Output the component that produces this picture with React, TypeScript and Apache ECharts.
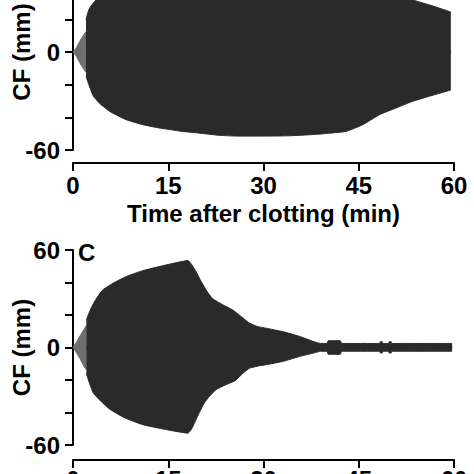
import React, { useEffect, useRef } from "react";
import * as echarts from "echarts";

// Time (min), CF amplitude (mm)
const xTickLabels = [0, 15, 30, 45, 60];
const yLabelValues = [-60, 0, 60];

const topGreyUpper = [[0, 0], [0.5, 2.5], [1.05, 6.5], [1.6, 10], [2.15, 13]];
const topGreyLower = [[0, 0], [0.5, -2.5], [1.05, -6.5], [1.6, -10], [2.15, -13]];
const topUpper = [
  [2.05, 20], [2.5, 26], [3.2, 30], [4.2, 34], [5.8, 39], [8.4, 44], [11, 47], [14, 49],
  [20, 51.5], [30, 53], [40, 52], [44, 49.5], [46, 47], [48, 43], [50.8, 37], [53.4, 32],
  [56, 29], [57.6, 27], [59.5, 24.5],
];
const topLower = [
  [2.05, -15], [2.5, -20], [3.2, -27], [4.2, -31.5], [5.8, -36.4], [8.4, -41.5], [11, -44.5],
  [13.7, -46.6], [17, -48.5], [20, -49.7], [23, -51], [26, -51.5], [30, -51.5], [34, -51.3],
  [38, -50.5], [40.4, -49.7], [43, -48.6], [45.6, -44.6], [48.2, -38.5], [50.8, -34.4],
  [53.4, -30.3], [56, -27.2], [58.7, -24.2], [59.5, -23.2],
];

const bottomGreyUpper = [[0, 0], [0.5, 3], [1.05, 6.8], [1.85, 12], [2.15, 14]];
const bottomGreyLower = [[0, 0], [0.5, -3], [1.05, -6.5], [1.85, -12.5], [2.15, -14]];
const bottomUpper = [
  [2.1, 17], [2.6, 22], [3.2, 27], [4, 32], [4.7, 35.5], [6.5, 40], [8.4, 43.7], [11, 47.3],
  [13.6, 49.8], [16, 52], [18.1, 53.5], [18.7, 51], [19.4, 46.5], [20.2, 40.5], [21.2, 34],
  [22, 30], [23.5, 26.5], [25.2, 23], [26.5, 19], [27.8, 15], [29, 13], [30.4, 11.9],
  [33, 9.8], [35.7, 6.8], [38, 3.5], [39, 2.5], [40, 2.5], [40.2, 4.2], [42.1, 4.2],
  [42.3, 2.5], [48.3, 2.5], [48.4, 3.6], [48.7, 3.6], [48.8, 2.5], [49.7, 2.5], [49.8, 3.6],
  [50.1, 3.6], [50.2, 2.5], [59.7, 2.5],
];
const bottomLower = [
  [2.1, -16], [2.6, -22], [3.2, -28], [4.5, -33.5], [5.8, -38], [8, -43], [11, -47.5],
  [14, -50], [16, -51.5], [18.1, -52.7], [18.7, -50], [19.3, -45], [19.9, -40], [20.7, -34],
  [21.5, -30], [22.5, -26], [24, -23], [25.5, -20.5], [27, -15], [27.8, -12.7], [29.3, -11.3],
  [30.4, -10.6], [33, -8.6], [35.7, -5.5], [38, -3.3], [39, -2.3], [40, -2.3], [40.2, -4.2],
  [42.1, -4.2], [42.3, -2.3], [48.3, -2.3], [48.4, -3.4], [48.7, -3.4], [48.8, -2.3], [49.7, -2.3],
  [49.8, -3.4], [50.1, -3.4], [50.2, -2.3], [59.7, -2.3],
];

const FONT = "'Liberation Sans', Arial, Helvetica, sans-serif";
const DARK = "#2a2a2a";
const GREY = "#6e6e6e";

function xAxisFor(gridIndex: number, offset: number, margin: number) {
  return {
    type: "value" as const,
    gridIndex,
    min: xTickLabels[0],
    max: xTickLabels[xTickLabels.length - 1],
    interval: xTickLabels[1] - xTickLabels[0],
    position: "bottom" as const,
    offset,
    name: gridIndex === 0 ? "Time after clotting (min)" : "",
    nameLocation: "middle" as const,
    nameGap: 38,
    nameMoveOverlap: false,
    nameTextStyle: { fontFamily: FONT, fontSize: 24, fontWeight: "bold", color: "#000" },
    axisLine: { show: true, onZero: false, lineStyle: { color: "#000", width: 2 } },
    axisTick: { show: true, inside: false, length: 8, lineStyle: { color: "#000", width: 2 } },
    axisLabel: { fontFamily: FONT, fontSize: 24, fontWeight: "bold", color: "#000", margin },
    splitLine: { show: false },
  };
}

function yAxisFor(gridIndex: number) {
  return {
    type: "value" as const,
    gridIndex,
    min: -60,
    max: 60,
    interval: 20,
    name: "CF (mm)",
    nameLocation: "middle" as const,
    nameGap: 40,
    nameMoveOverlap: false,
    nameTextStyle: { fontFamily: FONT, fontSize: 24, fontWeight: "bold", color: "#000" },
    axisLine: { show: true, onZero: false, lineStyle: { color: "#000", width: 2 } },
    axisTick: { show: true, inside: false, length: 8, lineStyle: { color: "#000", width: 2 } },
    axisLabel: {
      fontFamily: FONT,
      fontSize: 24,
      fontWeight: "bold",
      color: "#000",
      margin: 13,
      formatter: (v: number) => (yLabelValues.includes(v) ? String(v) : ""),
    },
    splitLine: { show: false },
  };
}

function area(data: number[][], idx: number, color: string, origin: number) {
  return {
    type: "line" as const,
    xAxisIndex: idx,
    yAxisIndex: idx,
    data,
    showSymbol: false,
    symbol: "none",
    smooth: 0.15,
    lineStyle: { color, width: 1 },
    areaStyle: { color, opacity: 1, origin },
    silent: true,
  };
}

export default function App() {
  const ref = useRef<HTMLDivElement>(null);
  useEffect(() => {
    if (!ref.current) return;
    const chart = echarts.init(ref.current, undefined, { renderer: "svg" });
    chart.setOption({
      animation: false,
      backgroundColor: "#fff",
      grid: [
        { left: 73, width: 381, top: 54, height: 196, containLabel: false, outerBoundsMode: "none" },
        { left: 73, width: 381, top: 350, height: 195, containLabel: false, outerBoundsMode: "none" },
      ],
      xAxis: [xAxisFor(0, 13, 10), xAxisFor(1, 15, 7)],
      yAxis: [yAxisFor(0), yAxisFor(1)],
      series: [
        area(topGreyUpper, 0, GREY, -0.5),
        area(topGreyLower, 0, GREY, 0.5),
        area(topUpper, 0, DARK, -1),
        area(topLower, 0, DARK, 1),
        area(bottomGreyUpper, 1, GREY, -0.5),
        area(bottomGreyLower, 1, GREY, 0.5),
        area(bottomUpper, 1, DARK, -1),
        area(bottomLower, 1, DARK, 1),
      ],
      graphic: [
        {
          type: "text",
          x: 78,
          y: 352,
          style: {
            text: "C",
            fontFamily: FONT,
            fontSize: 24,
            fontWeight: "bold",
            fill: "#000",
            verticalAlign: "middle",
          },
        },
      ],
    });
    return () => chart.dispose();
  }, []);
  return (
    <div
      ref={ref}
      style={{ position: "fixed", left: 0, top: -100, width: 474, height: 574 }}
    />
  );
}
